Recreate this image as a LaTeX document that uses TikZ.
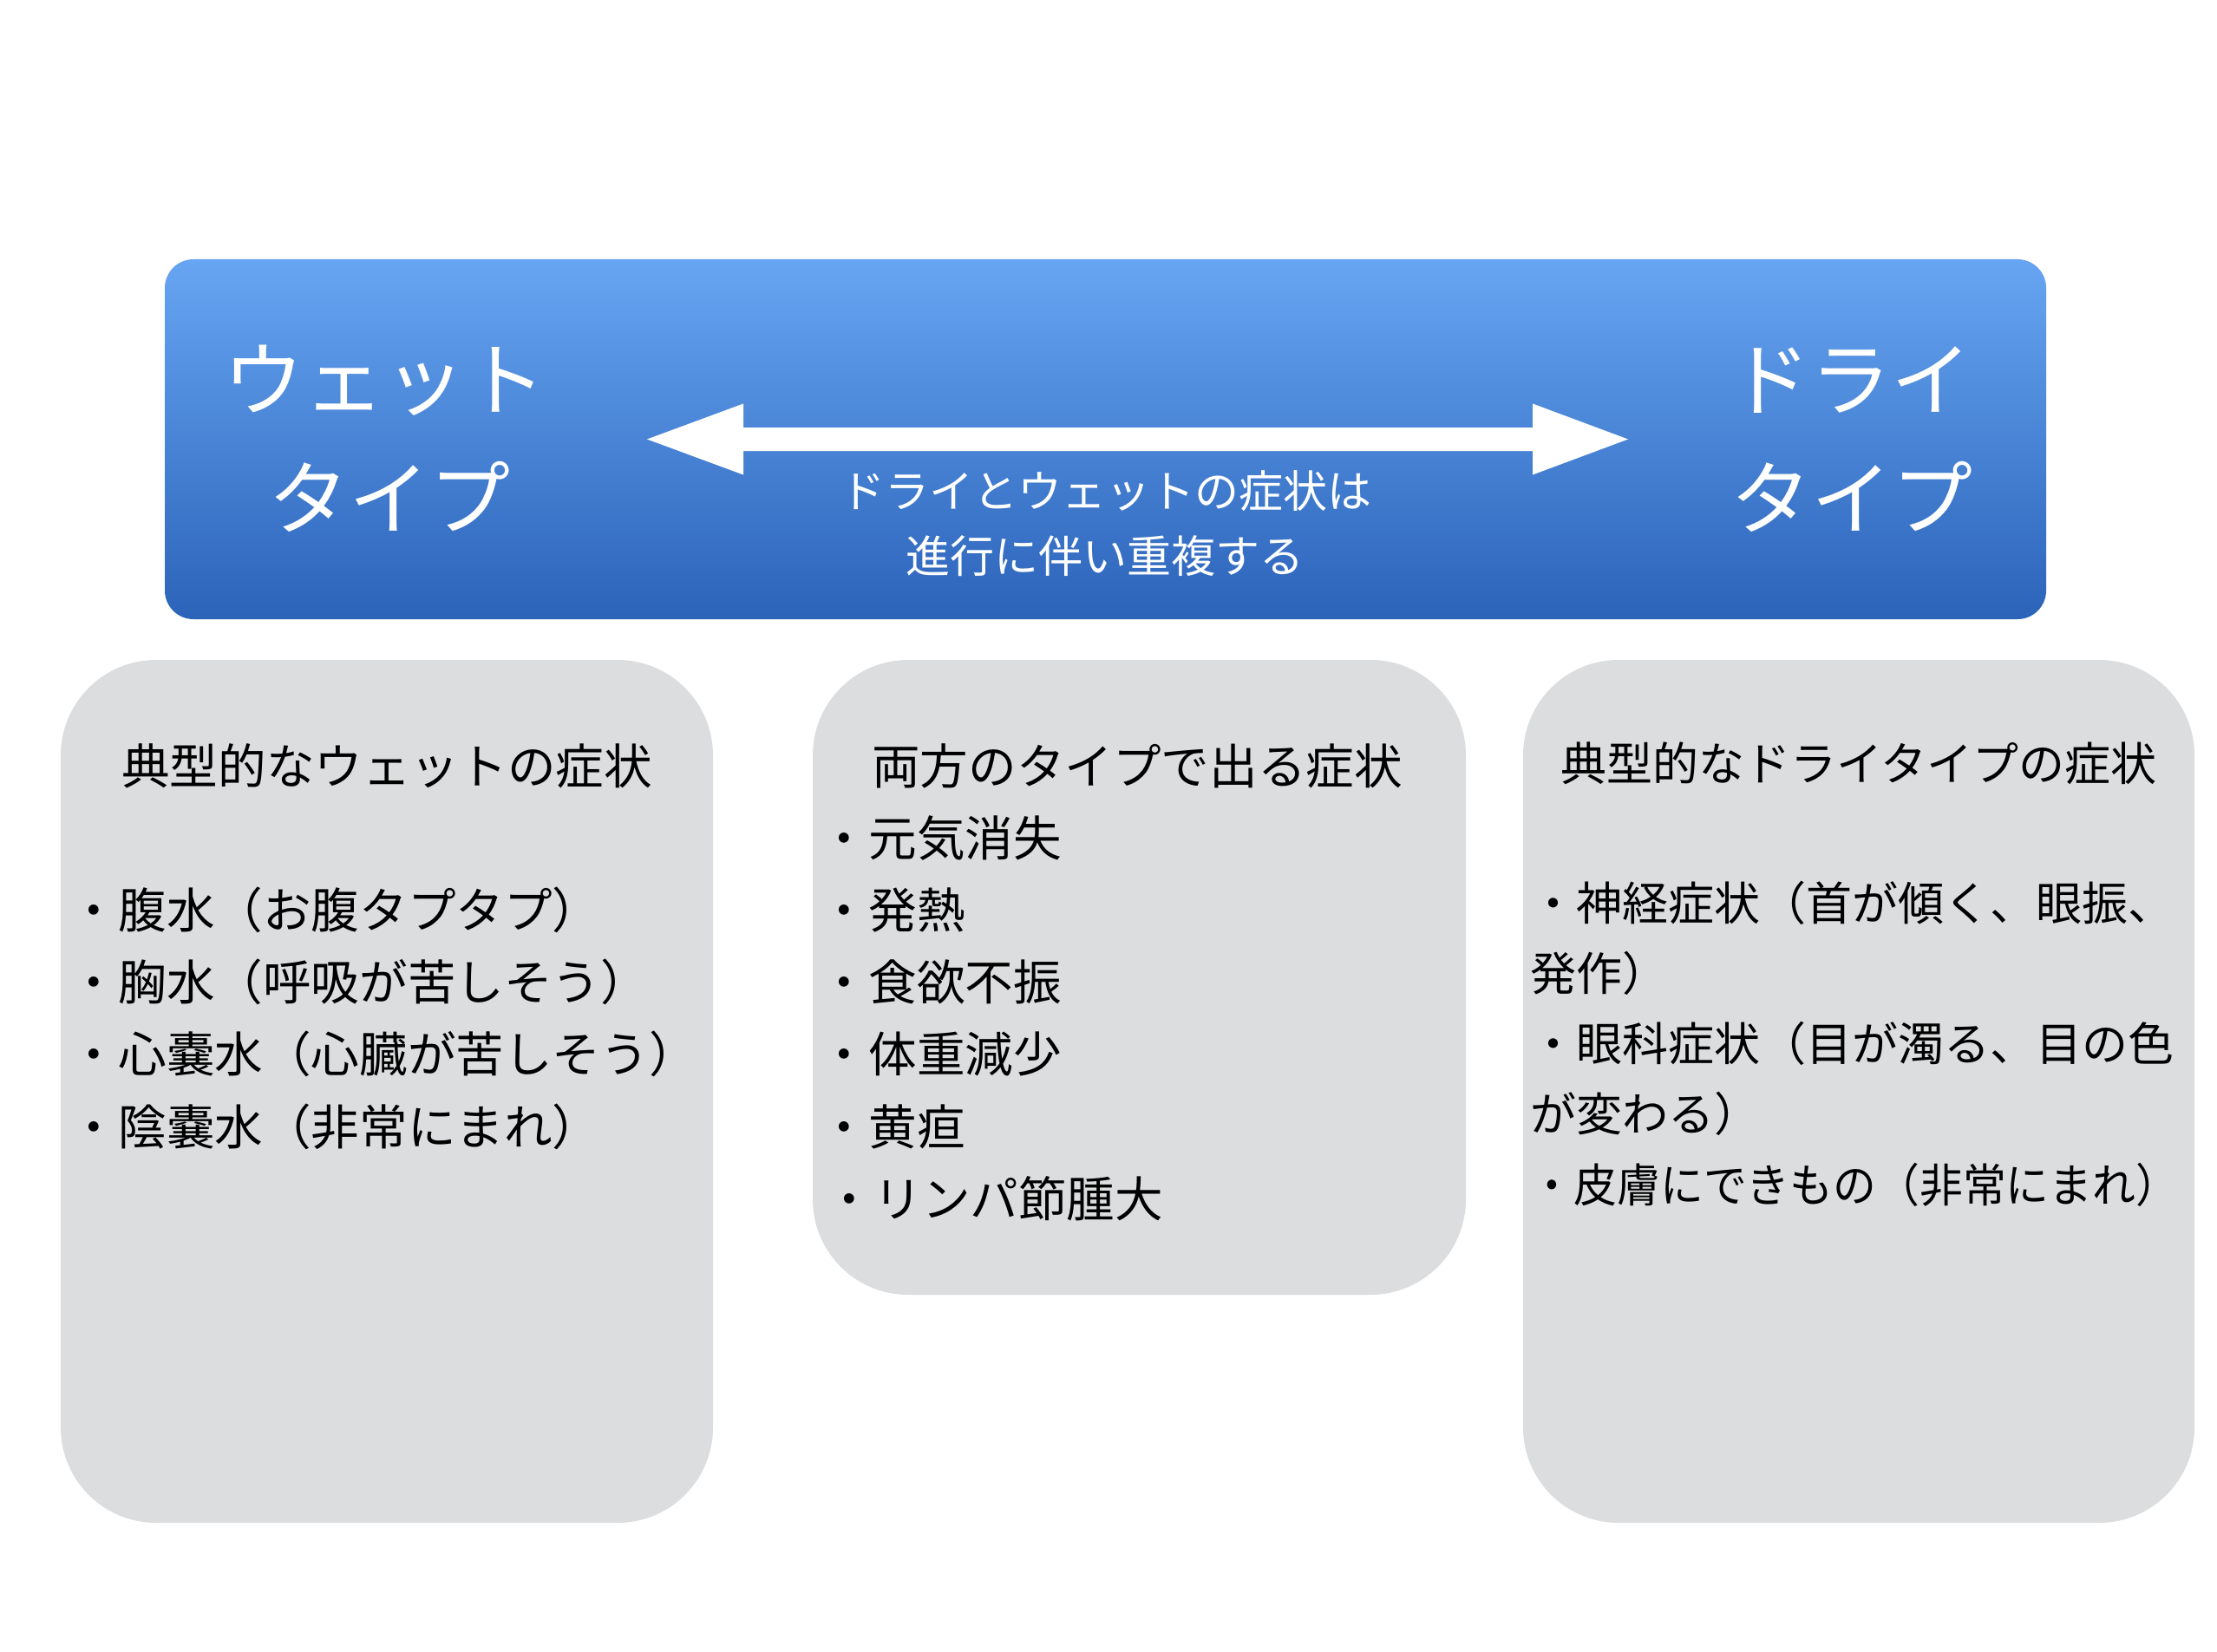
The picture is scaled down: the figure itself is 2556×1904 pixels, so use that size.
\documentclass[tikz,border=0pt]{standalone}
\usepackage{graphicx}
\usepackage{fontspec}
\setmainfont{Noto Sans CJK JP}
\definecolor{bartop}{HTML}{67A5F2}
\definecolor{barbot}{HTML}{2B63B9}
\definecolor{boxgray}{HTML}{DCDDDF}
\begin{document}
\begin{tikzpicture}[x=0.25pt,y=-0.25pt,
  bluebar/.style={rounded corners=8.25pt, top color=bartop, bottom color=barbot, draw=none, inner sep=0pt, minimum width=542.25pt, minimum height=103.75pt},
  graybox/.style={fill=boxgray, rounded corners=27.5pt, draw=none, inner sep=0pt},
  bigtxt/.style={inner sep=0pt, anchor=base, text=white, font=\fontsize{23.25pt}{28pt}\selectfont},
  midtxt/.style={inner sep=0pt, anchor=base, text=white, font=\fontsize{12.75pt}{15pt}\selectfont},
  ttl/.style={inner sep=0pt, anchor=base, text=black, font=\fontsize{13.9pt}{16pt}\selectfont},
  itm/.style={inner sep=0pt, anchor=base west, text=black, font=\fontsize{13.9pt}{16pt}\selectfont},
  ttlr/.style={ttl, font=\fontsize{13.25pt}{16pt}\selectfont},
  itmr/.style={itm, font=\fontsize{13.25pt}{16pt}\selectfont}]
\useasboundingbox (0,0) rectangle (2556,1904);
\fill[white] (0,0) rectangle (2556,1904);

% top bar
\node[bluebar] (bar) at (1274.5,506.5) {};
\node[bigtxt] (wet1) at (443,472) {ウェット};
\node[bigtxt] (wet2) at (449,609) {タイプ};
\node[bigtxt] (dry1) at (2134,472) {ドライ};
\node[bigtxt] (dry2) at (2135,609) {タイプ};
\node[midtxt] (mid1) at (1275,585) {ドライとウェットの症状は};
\node[midtxt] (mid2) at (1274,660) {進行に伴い重複する};

% double arrow
\coordinate (al) at (746,506.5);
\coordinate (ar) at (1877,506.5);
\fill[white] (al) -- (857,465.5) -- (857,493) -- (1767,493) -- (1767,465.5) -- (ar)
  -- (1767,547.5) -- (1767,520) -- (857,520) -- (857,547.5) -- cycle;

% gray boxes
\node[graybox, minimum width=188pt, minimum height=248.75pt] (wetbox) at (446,1258.5) {};
\node[graybox, minimum width=188.25pt, minimum height=183pt] (bothbox) at (1313.5,1127) {};
\node[graybox, minimum width=193.5pt, minimum height=248.75pt] (drybox) at (2143,1258.5) {};

% wet box text
\node[ttl] (wt) at (446,904.5) {典型的なウェットの症状};
\node[itm] (w1) at (80,1070.7) {・腹水（お腹タプタプ）};
\node[itm] (w2) at (80,1153.8) {・胸水（呼吸が苦しそう）};
\node[itm] (w3) at (80,1236.9) {・心嚢水（心臓が苦しそう）};
\node[itm] (w4) at (80,1320) {・陰嚢水（非常にまれ）};

% both box text
\node[ttl] (bt) at (1311,904.5) {両方のタイプで出る症状};
\node[itm] (b1) at (945,987.6) {・元気消失};
\node[itm] (b2) at (945,1070.7) {・発熱};
\node[itm] (b3) at (945,1153.8) {・食欲不振};
\node[itm] (b4) at (945,1236.9) {・体重減少};
\node[itm] (b5) at (945,1320) {・黄疸};
\node[itm] (b6) at (951,1403.1) {・リンパ節腫大};

% dry box text
\node[ttlr] (dt) at (2143,900) {典型的なドライタイプの症状};
\node[itmr] (d1) at (1764,1061.6) {・神経症状（首が傾く、眼振、};
\node[itmr] (d2) at (1764,1142.7) {発作）};
\node[itmr] (d3) at (1764,1223.8) {・眼科症状（目が濁る、目の色};
\node[itmr] (d4) at (1764,1304.9) {が変わる）};
\node[itmr] (d5) at (1764,1386) {\scalebox{0.94}[1]{・皮膚にできもの（非常にまれ）}};
\end{tikzpicture}
\end{document}
